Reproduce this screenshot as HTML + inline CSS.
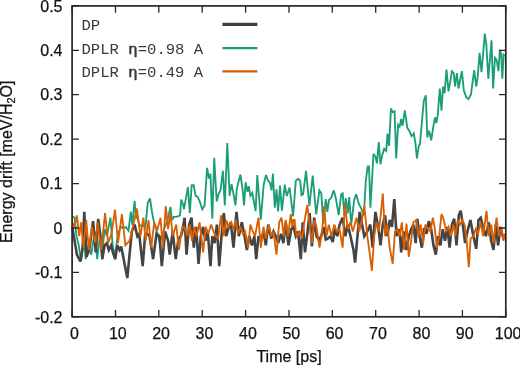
<!DOCTYPE html>
<html><head><meta charset="utf-8"><style>
html,body{margin:0;padding:0;background:#fff;width:520px;height:365px;overflow:hidden}
svg{display:block}
.tl{font-family:"Liberation Sans",Arial,sans-serif;font-size:16px;fill:#111;stroke:#111;stroke-width:0.25px}
.lg{font-family:"Liberation Mono","Courier New",monospace;font-size:15.6px;fill:#3a3a3a}
</style></head><body>
<svg width="520" height="365" viewBox="0 0 520 365"><rect x="0" y="0" width="520" height="365" fill="#fff"/>
<path d="M72.3 216.5L74.6 217.7L76.5 236.2L78.8 245.4L81.1 261.5L83.4 236.2L85.7 259.2L88.0 245.4L91.2 254.6L94.9 231.5L97.2 259.2L100.0 236.2L102.3 252.3L104.6 229.2L106.9 236.2L110.4 217.7L112.7 245.4L115.0 256.9L117.3 238.5L118.9 231.5L120.8 226.9L123.5 228.1L125.8 226.9L128.5 230.8L130.8 211.5L132.3 224.6L134.6 200.8L136.2 218.5L137.2 216.9L139.2 224.6L141.5 226.2L143.8 225.4L145.4 227.7L147.7 203.1L150.0 198.5L152.0 212.0L154.5 225.0L157.0 232.0L159.5 242.0L162.0 236.0L164.5 228.0L167.0 222.0L170.5 206.9L172.0 220.0L173.8 216.9L176.2 216.9L178.5 216.2L180.0 215.4L181.2 199.6L183.1 204.6L184.0 209.2L187.9 187.1L189.8 213.1L191.7 185.2L193.7 185.2L195.6 195.8L197.5 196.7L199.4 200.6L202.3 209.2L204.6 205.4L207.1 167.9L209.0 178.5L210.4 173.7L212.3 218.8L214.2 157.9L216.7 201.5L218.7 193.8L220.6 190.0L222.9 170.8L224.8 205.4L227.3 143.1L229.6 195.8L231.5 184.2L233.5 193.8L235.4 205.4L236.9 188.1L237.9 184.2L240.4 174.6L242.7 190.0L244.0 205.4L245.6 182.3L247.5 191.9L248.8 186.2L250.4 195.8L252.3 192.9L254.2 203.5L255.6 211.2L257.3 175.0L260.8 219.6L263.7 184.6L266.0 175.0L268.1 180.8L270.0 182.7L271.5 190.4L272.9 173.7L274.8 207.7L276.5 189.4L278.1 211.5L280.0 185.6L281.9 210.6L284.8 184.6L286.7 196.2L289.6 187.5L293.1 216.3L295.8 180.8L298.3 178.8L300.2 180.8L301.5 195.2L303.1 194.2L306.0 170.8L309.4 206.0L312.7 175.6L316.2 214.4L319.4 190.4L321.3 193.3L323.3 224.0L325.8 199.0L327.3 212.0L329.0 200.0L331.0 198.1L333.8 190.4L335.8 198.1L338.7 215.0L341.2 194.2L342.7 193.3L344.4 215.4L345.8 198.1L347.7 213.5L349.2 197.1L351.2 224.5L354.2 200.0L356.2 194.2L358.5 202.9L361.3 208.7L363.8 215.5L365.8 180.8L367.7 166.3L369.0 166.3L370.4 207.7L373.5 153.7L375.4 156.5L376.9 163.3L378.8 142.1L380.4 164.2L382.3 154.6L384.2 148.8L386.2 150.8L387.5 133.5L389.0 146.0L391.0 108.5L392.7 112.3L394.6 111.3L396.2 158.5L398.1 124.8L399.6 126.7L401.2 119.0L402.5 125.8L404.8 110.4L407.3 127.7L409.6 131.5L411.5 136.3L413.8 133.5L415.4 143.1L416.9 158.5L418.8 146.0L420.0 144.2L422.3 117.3L423.8 101.0L425.8 95.2L427.3 137.5L428.7 130.8L429.6 132.7L431.2 140.4L433.1 127.9L435.0 117.3L436.3 123.1L437.7 115.4L439.8 88.5L441.5 110.6L443.1 86.5L444.6 93.3L446.5 69.6L448.5 91.3L450.4 80.8L451.9 71.2L453.7 73.1L455.0 86.5L456.9 73.1L458.5 88.5L460.0 80.8L461.9 71.2L463.8 90.4L466.2 97.1L468.5 99.0L471.0 94.2L474.2 70.2L476.2 86.5L477.7 76.9L479.6 52.9L481.5 72.1L483.1 53.8L484.8 33.7L486.3 44.2L488.3 78.8L491.5 40.4L493.1 88.5L495.0 57.7L496.5 59.6L498.5 71.2L499.8 50.0L501.2 53.8L502.3 78.8L503.7 54.8L504.6 55.8" fill="none" stroke="#1b9e77" stroke-width="1.85" stroke-linejoin="miter" stroke-miterlimit="3"/>
<path d="M72.3 226.9L74.6 240.8L76.9 254.6L80.4 261.5L82.7 247.7L84.3 211.9L86.6 256.9L89.6 247.7L93.1 221.2L95.8 252.3L98.2 218.8L100.5 236.2L102.3 259.2L104.6 245.4L106.9 243.1L108.8 250.0L111.1 245.4L112.9 252.3L115.2 259.2L117.3 245.4L119.6 250.0L121.2 246.5L127.3 278.0L131.8 231.5L134.6 224.6L137.4 236.2L139.2 233.8L142.7 266.2L145.0 236.2L147.3 233.8L149.6 236.2L153.1 259.2L156.5 233.8L159.5 236.2L161.8 266.2L165.1 231.5L168.1 240.8L169.7 254.6L172.7 231.5L175.7 259.2L178.5 238.5L180.8 236.2L182.3 231.5L184.6 217.7L186.5 254.6L189.2 224.6L191.5 217.7L193.8 247.7L196.2 226.9L198.5 263.8L200.8 236.2L203.1 226.9L205.4 240.8L207.7 231.5L210.5 266.2L212.3 236.2L214.6 243.1L216.9 224.6L219.2 266.2L221.5 236.2L223.8 213.1L226.2 236.2L228.9 226.9L230.8 222.3L233.5 247.7L236.5 211.9L238.8 236.2L241.8 222.3L244.6 236.2L246.9 250.0L249.2 236.2L252.0 245.4L254.3 236.2L256.2 259.2L258.5 236.2L260.8 240.8L263.5 231.5L265.8 245.4L268.2 224.6L271.2 238.5L273.5 231.5L275.8 236.2L278.1 243.1L281.1 233.8L283.4 243.1L285.7 222.3L288.5 245.4L291.2 229.2L293.5 226.9L295.8 236.2L298.1 231.5L300.8 259.2L302.7 222.3L305.0 252.3L307.3 233.8L309.6 213.1L311.9 246.5L314.2 217.7L316.5 236.2L318.8 239.6L321.2 236.2L323.5 226.9L325.8 239.6L328.1 238.5L330.4 236.2L332.7 241.9L335.0 229.2L337.3 236.2L339.6 224.6L342.6 217.7L345.4 236.2L347.7 224.6L350.5 236.2L353.5 250.0L355.1 262.7L358.1 229.2L359.7 211.9L362.0 224.6L364.3 236.2L367.3 231.5L370.3 224.6L372.6 247.7L375.4 211.9L378.2 226.9L380.5 245.4L382.8 224.6L385.1 215.4L387.4 236.2L389.7 220.0L392.0 226.9L394.3 199.0L396.6 236.2L398.9 229.2L400.0 236.2L401.2 252.3L403.5 231.5L406.5 250.0L408.8 236.2L411.1 229.2L413.4 224.6L415.7 243.1L417.3 218.8L419.6 236.2L421.9 247.7L424.2 228.1L426.5 233.8L428.8 221.2L431.2 229.2L433.5 245.4L435.8 254.6L438.1 236.2L440.4 245.4L442.7 229.2L445.0 240.8L447.3 226.9L449.6 247.7L451.9 224.6L454.2 218.8L456.5 245.4L458.8 215.4L460.7 210.8L462.8 224.6L465.1 243.1L467.4 231.5L470.4 220.0L473.4 236.2L476.2 248.8L478.5 220.0L480.8 217.7L483.5 229.2L485.8 236.2L488.8 222.3L491.2 240.8L493.5 250.0L495.8 224.6L498.1 245.4L500.4 226.9L502.7 236.2L505.0 238.5" fill="none" stroke="#444444" stroke-width="2.6" stroke-linejoin="miter" stroke-miterlimit="3"/>
<path d="M72.3 222.3L74.6 226.9L76.9 215.4L79.2 236.2L81.1 222.3L83.4 247.7L86.2 220.0L88.9 250.0L91.9 226.9L95.4 243.1L97.7 222.3L101.2 250.0L105.1 213.1L108.1 243.1L111.5 233.8L115.0 209.6L118.0 243.1L121.9 214.2L125.4 245.4L129.5 240.8L132.3 229.2L136.9 208.5L140.4 236.2L143.4 217.7L145.7 240.8L148.5 220.0L151.2 247.7L154.2 222.3L157.2 230.4L160.5 217.7L162.8 247.7L165.8 206.2L168.1 229.2L170.4 213.1L172.7 236.2L176.2 224.6L178.9 250.0L181.2 233.8L182.3 226.9L184.2 226.9L187.4 236.2L189.7 224.6L192.0 240.8L194.3 226.9L196.6 236.2L199.6 222.3L203.1 252.3L205.8 226.9L208.2 233.8L211.2 224.6L213.5 231.5L215.8 236.2L218.1 238.5L221.1 215.4L223.8 236.2L226.2 220.0L228.5 226.9L231.2 222.3L233.5 229.2L235.8 220.0L238.2 233.8L240.5 226.9L242.8 233.8L245.1 231.5L248.1 247.7L250.4 224.6L252.7 231.5L255.0 236.2L258.5 217.7L260.8 247.7L263.5 226.9L265.8 238.5L268.8 224.6L271.2 236.2L273.5 231.5L276.5 254.6L279.2 222.3L281.5 217.7L283.8 236.2L285.7 220.0L288.0 236.2L290.8 214.2L292.3 226.9L293.5 220.0L294.6 220.0L295.8 231.5L296.9 236.2L299.7 231.5L302.0 238.5L304.3 222.3L307.3 205.0L309.6 224.6L311.9 243.1L314.2 220.0L316.5 226.9L319.5 247.7L321.8 233.8L324.2 206.2L326.5 236.2L328.8 224.6L331.5 236.2L334.3 224.6L336.6 231.5L339.6 229.2L342.6 247.7L344.9 203.8L347.7 229.2L350.5 222.3L352.8 231.5L356.5 217.7L359.2 231.5L361.5 222.3L364.3 206.2L367.3 236.2L369.6 252.3L371.9 270.8L374.2 236.2L376.5 222.3L378.8 231.5L380.7 215.4L382.8 193.5L385.1 236.2L387.4 224.6L389.7 247.7L392.7 263.8L395.0 231.5L397.3 229.2L399.6 236.2L401.9 222.3L404.2 250.0L406.5 223.5L408.8 256.9L411.1 240.8L413.4 222.3L416.2 220.0L418.5 236.2L420.8 224.6L423.1 243.1L425.4 224.6L428.2 229.2L430.5 231.5L432.8 217.7L434.6 226.9L436.9 247.7L439.2 236.2L441.5 214.2L443.8 220.0L446.2 231.5L448.5 226.9L450.8 236.2L453.5 224.6L455.4 236.2L457.7 220.0L460.0 224.6L462.3 220.0L464.6 224.6L466.9 243.1L468.8 267.3L470.6 238.5L473.4 236.2L475.7 229.2L478.0 233.8L480.8 222.3L483.1 236.2L486.5 210.8L488.8 236.2L491.2 224.6L493.5 243.1L496.5 217.7L498.8 236.2L501.1 226.9L503.4 240.8L505.0 233.8" fill="none" stroke="#d95f02" stroke-width="1.85" stroke-linejoin="miter" stroke-miterlimit="3"/>
<rect x="72.1" y="5.9" width="433.7" height="310.9" fill="none" stroke="#262626" stroke-width="1.7"/>
<path d="M72.1 5.9h6.8M505.8 5.9h-6.8M72.1 50.3h6.8M505.8 50.3h-6.8M72.1 94.7h6.8M505.8 94.7h-6.8M72.1 139.1h6.8M505.8 139.1h-6.8M72.1 183.6h6.8M505.8 183.6h-6.8M72.1 228.0h6.8M505.8 228.0h-6.8M72.1 272.4h6.8M505.8 272.4h-6.8M72.1 316.8h6.8M505.8 316.8h-6.8M72.1 316.8v-6.8M72.1 5.9v6.8M115.5 316.8v-6.8M115.5 5.9v6.8M158.8 316.8v-6.8M158.8 5.9v6.8M202.2 316.8v-6.8M202.2 5.9v6.8M245.6 316.8v-6.8M245.6 5.9v6.8M289.0 316.8v-6.8M289.0 5.9v6.8M332.3 316.8v-6.8M332.3 5.9v6.8M375.7 316.8v-6.8M375.7 5.9v6.8M419.1 316.8v-6.8M419.1 5.9v6.8M462.4 316.8v-6.8M462.4 5.9v6.8M505.8 316.8v-6.8M505.8 5.9v6.8" stroke="#262626" stroke-width="1.3" fill="none"/>
<text x="62.5" y="11.6" text-anchor="end" class="tl">0.5</text>
<text x="62.5" y="56.0" text-anchor="end" class="tl">0.4</text>
<text x="62.5" y="100.4" text-anchor="end" class="tl">0.3</text>
<text x="62.5" y="144.8" text-anchor="end" class="tl">0.2</text>
<text x="62.5" y="189.3" text-anchor="end" class="tl">0.1</text>
<text x="62.5" y="233.7" text-anchor="end" class="tl">0</text>
<text x="62.5" y="278.1" text-anchor="end" class="tl">-0.1</text>
<text x="62.5" y="322.5" text-anchor="end" class="tl">-0.2</text>
<text x="74.4" y="339.0" text-anchor="middle" class="tl">0</text>
<text x="117.8" y="339.0" text-anchor="middle" class="tl">10</text>
<text x="161.1" y="339.0" text-anchor="middle" class="tl">20</text>
<text x="204.5" y="339.0" text-anchor="middle" class="tl">30</text>
<text x="247.9" y="339.0" text-anchor="middle" class="tl">40</text>
<text x="291.3" y="339.0" text-anchor="middle" class="tl">50</text>
<text x="334.6" y="339.0" text-anchor="middle" class="tl">60</text>
<text x="378.0" y="339.0" text-anchor="middle" class="tl">70</text>
<text x="421.4" y="339.0" text-anchor="middle" class="tl">80</text>
<text x="464.7" y="339.0" text-anchor="middle" class="tl">90</text>
<text x="508.1" y="339.0" text-anchor="middle" class="tl">100</text>
<text x="289" y="362.2" text-anchor="middle" class="tl">Time [ps]</text>
<text transform="translate(11.5,161.8) rotate(-90)" text-anchor="middle" class="tl">Energy drift [meV/H<tspan font-size="11" dy="3">2</tspan><tspan dy="-3">O]</tspan></text>
<text transform="translate(81.5,30.0) scale(1,0.88)" class="lg">DP</text>
<path d="M222.4 24.4H257.4" stroke="#404040" stroke-width="3.2"/>
<text transform="translate(81.5,53.6) scale(1,0.88)" class="lg">DPLR <tspan stroke="#3a3a3a" stroke-width="0.6">η</tspan>=0.98 A</text>
<path d="M222.4 48.1H257.4" stroke="#1b9e77" stroke-width="2.3"/>
<text transform="translate(81.5,76.8) scale(1,0.88)" class="lg">DPLR <tspan stroke="#3a3a3a" stroke-width="0.6">η</tspan>=0.49 A</text>
<path d="M222.4 71.4H257.4" stroke="#d95f02" stroke-width="2.3"/></svg>
</body></html>
